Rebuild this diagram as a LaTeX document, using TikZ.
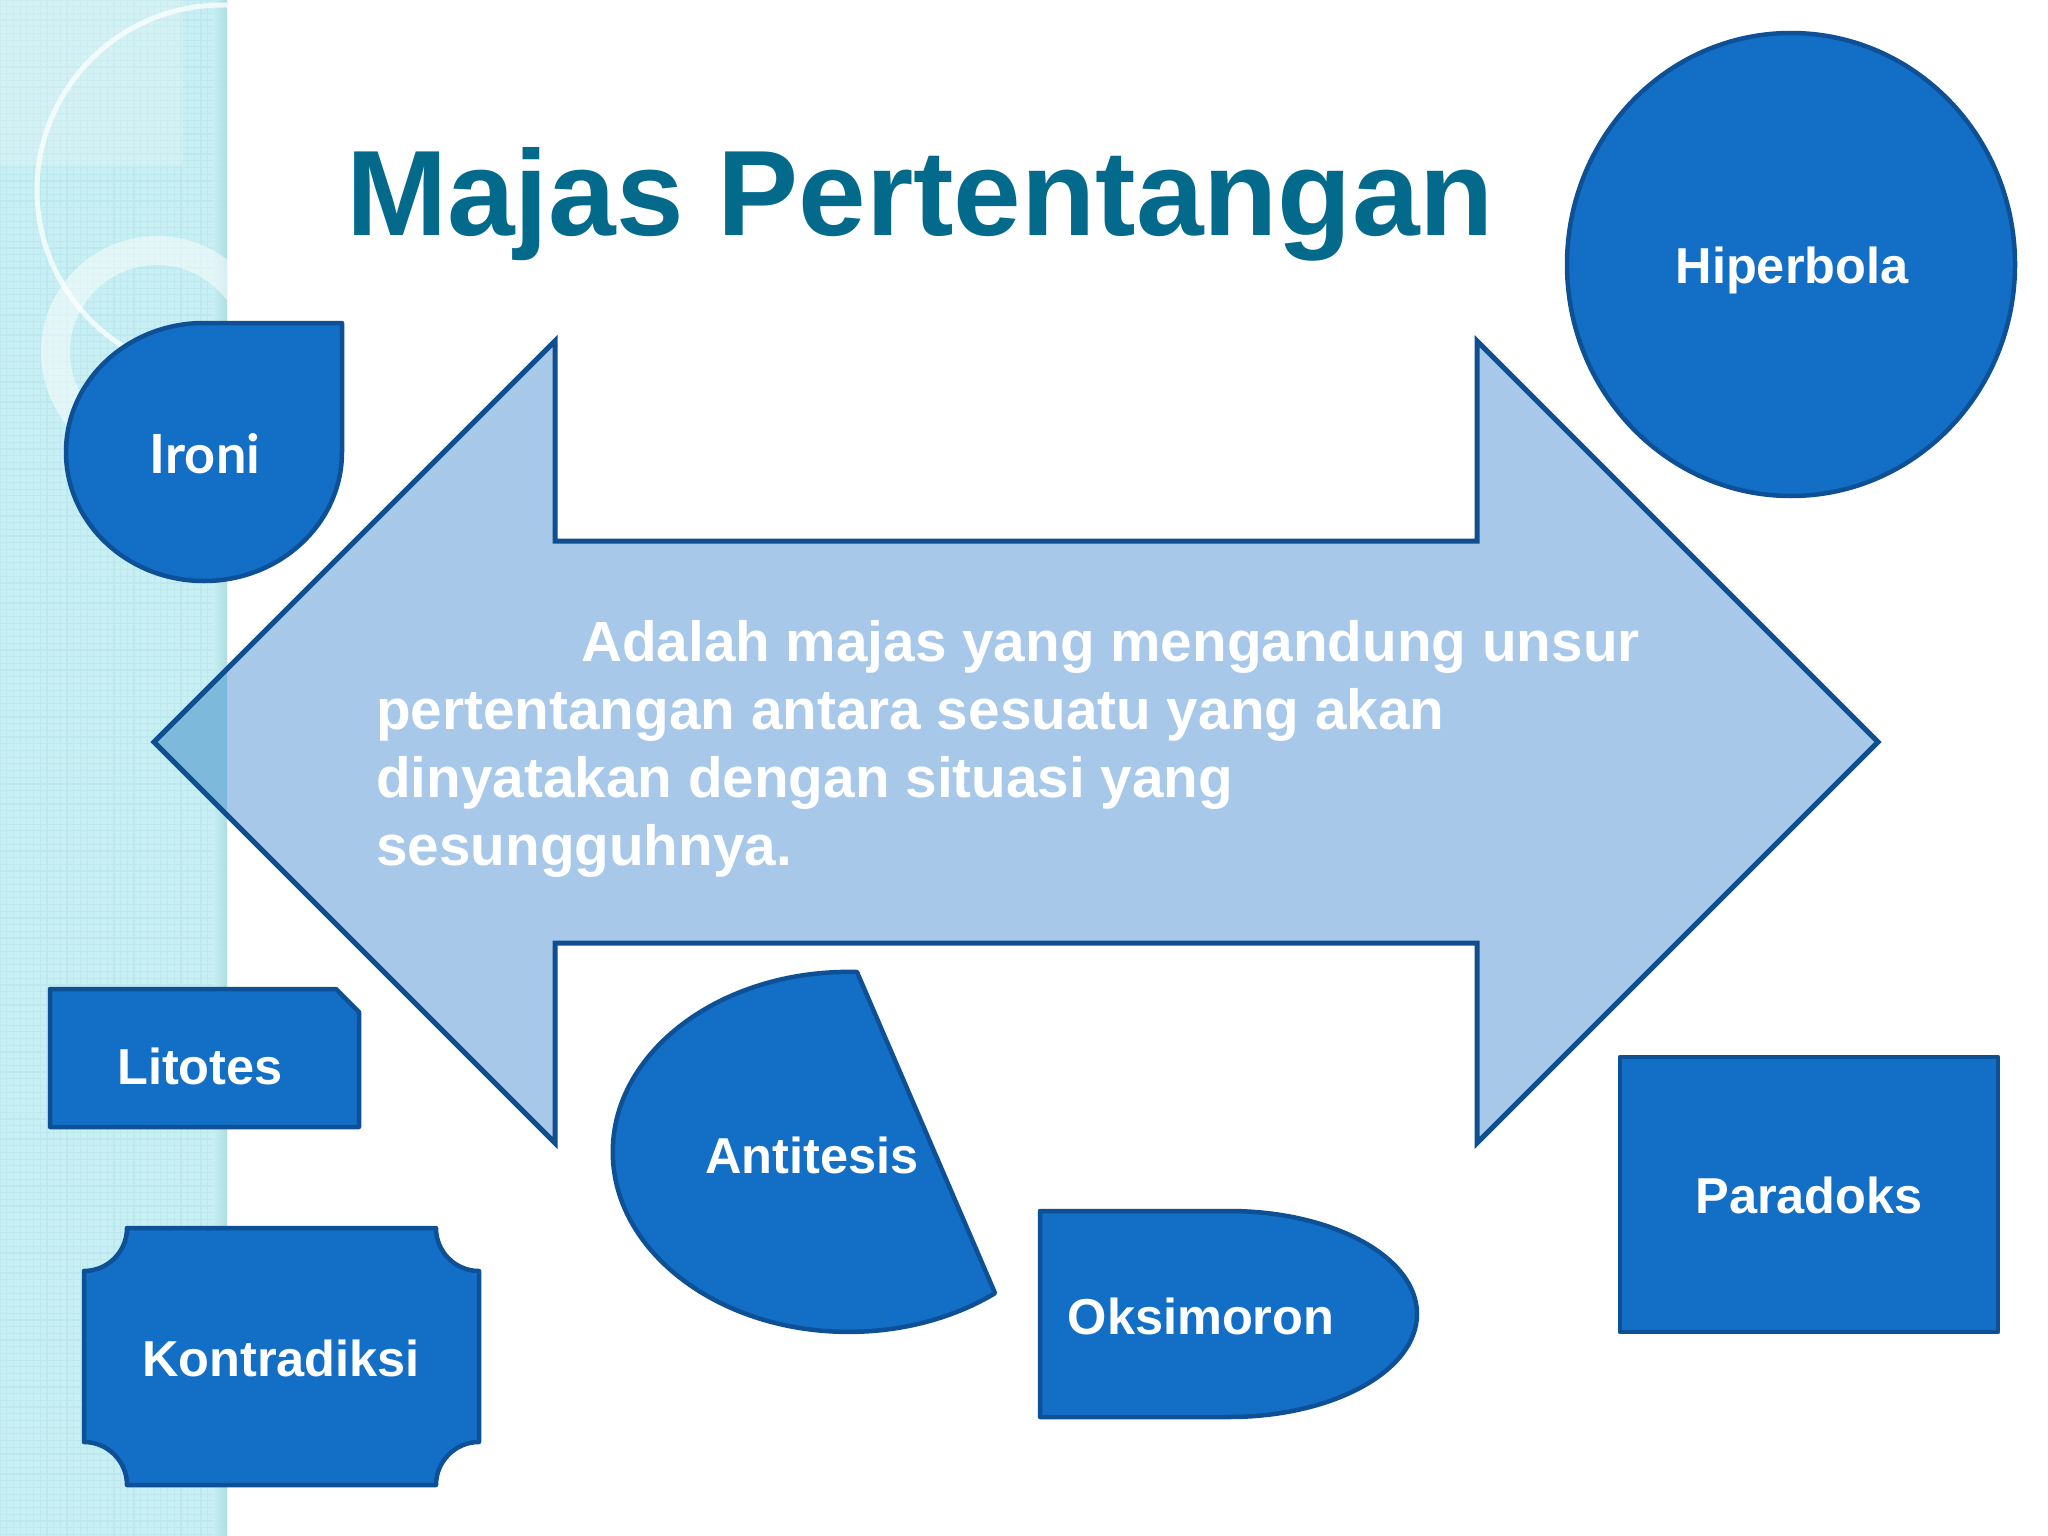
\documentclass[tikz,border=0pt]{standalone}
\usepackage{fontspec}
\setmainfont{Liberation Sans}
\newfontfamily\ironifont{Lato}
\definecolor{sidebar}{HTML}{C8EFF3}
\definecolor{sidegrid}{HTML}{BDE8ED}
\definecolor{sideedge}{HTML}{A9D9DF}
\definecolor{arrowfill}{HTML}{A7C8E8}
\definecolor{arrowover}{HTML}{7DB9DA}
\definecolor{arrowline}{HTML}{0F4F90}
\definecolor{shapefill}{HTML}{136FC6}
\definecolor{shapeline}{HTML}{0D5096}
\definecolor{titlecol}{HTML}{046A8C}
\tikzset{
  shp/.style={fill=shapefill, draw=shapeline, line width=4.5pt, line join=round},
  lbl/.style={text=white, font=\bfseries\fontsize{50.5}{60}\selectfont, inner sep=0pt, anchor=base},
  bodytext/.style={text=white, font=\bfseries\fontsize{56.7}{68}\selectfont, inner sep=0pt, anchor=base west},
  arrowshape/.style={draw=arrowline, line width=5pt, line join=miter},
}
\begin{document}
\begin{tikzpicture}[x=1pt,y=-1pt]
\useasboundingbox (0,0) rectangle (2048,1536);
\fill[white] (0,0) rectangle (2048,1536);
% sidebar
\fill[sidebar] (0,0) rectangle (227,1536);
\begin{scope}
  \clip (0,0) rectangle (227,1536);
  \foreach \i in {0,...,34} \draw[sidegrid, line width=1.2pt] (\i*6.7,0) -- (\i*6.7,1536);
  \foreach \j in {0,...,230} \draw[sidegrid, line width=1.2pt] (0,\j*6.7) -- (227,\j*6.7);
  \fill[white, opacity=0.22] (0,0) rectangle (183,165);
  \shade[left color=sidebar, right color=sideedge, opacity=0.8] (213,0) rectangle (227,1536);
  \draw[white, opacity=0.75, line width=5pt] (222,190) circle[radius=185];
  \fill[white, opacity=0.5, even odd rule] (157,352) circle[radius=116] (157,352) circle[radius=87];
\end{scope}
% double arrow
\coordinate (ltip) at (154,742);
\coordinate (rtip) at (1878,742);
\fill[arrowfill] (ltip) -- (555,341) -- (555,541) -- (1477,541) -- (1477,341) -- (rtip) -- (1477,1143) -- (1477,943) -- (555,943) -- (555,1143) -- cycle;
\begin{scope}
  \clip (0,0) rectangle (227,1536);
  \fill[arrowover] (ltip) -- (555,341) -- (555,1143) -- cycle;
\end{scope}
\draw[arrowshape] (ltip) -- (555,341) -- (555,541) -- (1477,541) -- (1477,341) -- (rtip) -- (1477,1143) -- (1477,943) -- (555,943) -- (555,1143) -- cycle;
\node[bodytext] (l1) at (581,661) {Adalah majas yang mengandung unsur};
\node[bodytext] (l2) at (376,729) {pertentangan antara sesuatu yang akan};
\node[bodytext] (l3) at (376,797) {dinyatakan dengan situasi yang};
\node[bodytext] (l4) at (376,865) {sesungguhnya.};
% title
\node[anchor=base west, inner sep=0pt, text=titlecol, font=\bfseries\fontsize{121.5}{140}\selectfont] (title) at (346,235) {Majas Pertentangan};
% Ironi
\draw[shp] (342,323) -- (204,323) arc[start angle=-90, end angle=-360, x radius=138, y radius=129] -- cycle;
\node[lbl, font=\ironifont\bfseries\fontsize{54}{64}\selectfont] (ironi) at (205,473) {Ironi};
% Hiperbola
\draw[shp] (1791,264.5) ellipse[x radius=224, y radius=231.5];
\node[lbl] (hiperbola) at (1792,283) {Hiperbola};
% Litotes
\draw[shp] (50,989) -- (336,989) -- (359,1012) -- (359,1127) -- (50,1127) -- cycle;
\node[lbl] (litotes) at (200,1084) {Litotes};
% Kontradiksi
\draw[shp] (127,1228) -- (436,1228) arc[start angle=180, end angle=90, radius=43]
  -- (479,1442) arc[start angle=-90, end angle=-180, radius=43]
  -- (127,1485) arc[start angle=0, end angle=-90, radius=43]
  -- (84,1271) arc[start angle=90, end angle=0, radius=43] -- cycle;
\node[lbl] (kontradiksi) at (281,1376) {Kontradiksi};
% Antitesis
\draw[shp] (857,972) arc[start angle=-88, end angle=-308.3, x radius=236, y radius=180] -- cycle;
\node[lbl] (antitesis) at (812,1173) {Antitesis};
% Oksimoron
\draw[shp] (1040,1211) -- (1229,1211) arc[start angle=-90, end angle=90, x radius=188, y radius=103] -- (1040,1417) -- cycle;
\node[lbl] (oksimoron) at (1201,1334) {Oksimoron};
% Paradoks
\draw[shp] (1620,1057) rectangle (1998,1332);
\node[lbl] (paradoks) at (1809,1213) {Paradoks};
\end{tikzpicture}
\end{document}
